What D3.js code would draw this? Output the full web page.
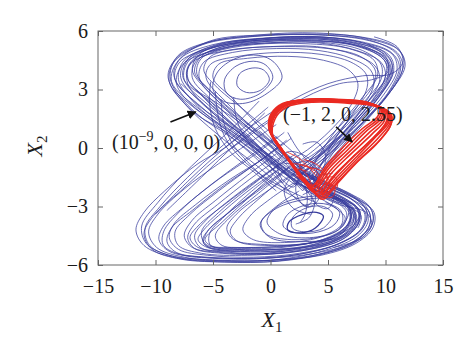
<!DOCTYPE html>
<html>
<head>
<meta charset="utf-8">
<script src="https://cdn.jsdelivr.net/npm/d3@7"></script>
<style>
  body { margin: 0; background: #fff; }
  svg text { font-family: "Liberation Serif", "DejaVu Serif", serif; fill: #1a1a1a; }
</style>
</head>
<body>
<div id="chart"></div>
<script>
// axis ticks
const xTicks = [-15, -10, -5, 0, 5, 10, 15]
const yTicks = [-6, -3, 0, 3, 6]

// blue trajectory as [x1, x2] points
// upper lobe: teardrop loops, apex near the centre
const upperLoops = [
  [[2,-1.6],[-0.5,-0.6],[-3.5,0.7],[-6.8,1.9],[-8.9,3.6],[-8.2,4.6],[-5.5,5.4],[-1,5.8],[4,5.9],[8.5,5.6],[11.2,5.0],[11.7,4.2],[10.3,2.8],[7.5,1.0],[4.5,-0.6],[2,-1.6]],
  [[2.5,-1.4],[0,-0.4],[-3,0.9],[-6.3,2.2],[-8.4,3.7],[-7.8,4.6],[-5,5.3],[-1,5.6],[4,5.7],[8,5.4],[10.6,4.8],[11.0,4.0],[9.8,2.7],[7.2,1.0],[4.6,-0.4],[2.5,-1.4]],
  [[3,-1.8],[0.5,-0.7],[-2.8,0.8],[-5.8,2.2],[-7.8,3.6],[-7.3,4.5],[-4.6,5.2],[-0.5,5.5],[4,5.6],[7.8,5.2],[10.1,4.6],[10.5,3.8],[9.4,2.6],[7,1.0],[4.8,-0.6],[3,-1.8]],
  [[1.5,-1.2],[-0.5,-0.2],[-3.2,1.2],[-5.6,2.5],[-7.3,3.7],[-6.8,4.5],[-4.2,5.1],[0,5.4],[4,5.4],[7.5,5.0],[9.6,4.4],[10.0,3.7],[8.9,2.5],[6.5,0.9],[3.8,-0.5],[1.5,-1.2]],
  [[2.8,-2.2],[0.8,-1.0],[-2.2,0.8],[-5,2.4],[-6.8,3.6],[-6.4,4.5],[-3.8,5.0],[0,5.2],[4,5.2],[7.2,4.8],[9.1,4.2],[9.5,3.5],[8.4,2.3],[6.2,0.7],[4.3,-0.9],[2.8,-2.2]],
  [[1.2,-0.8],[-1.5,0.6],[-4.4,2.3],[-6.2,3.6],[-5.8,4.4],[-3.3,4.9],[0.5,5.1],[4.2,5.0],[7,4.6],[8.7,4.0],[9.0,3.3],[7.9,2.0],[5.8,0.4],[3.5,-0.6],[1.2,-0.8]],
  [[2.2,-1.2],[-0.5,0.4],[-3.6,2.2],[-5.6,3.6],[-5.2,4.3],[-2.8,4.7],[0.8,4.9],[4.4,4.8],[7,4.4],[8.3,3.8],[8.4,3.1],[7.2,1.8],[5.2,0.2],[3.4,-0.8],[2.2,-1.2]],
  [[1.8,-0.6],[-0.8,1.0],[-3.4,2.6],[-5.0,3.6],[-4.5,4.3],[-2,4.6],[1.5,4.7],[4.6,4.5],[6.8,4.0],[7.6,3.3],[7,2.2],[5.2,0.9],[3.2,-0.1],[1.8,-0.6]],
  [[3.5,-2.0],[1,-0.9],[-2.5,0.5],[-6,1.9],[-8.6,3.4],[-8.0,4.5],[-5.2,5.5],[-0.5,5.8],[4.5,5.8],[8.8,5.5],[11,4.8],[11.3,4.0],[10,2.6],[7.3,0.7],[5,-0.9],[3.5,-2.0]],
  [[1,-1.8],[-1.5,-0.4],[-4.5,1.1],[-7.5,2.6],[-8.2,3.4],[-7.6,4.3],[-5,5.0],[-1.5,5.4],[3,5.5],[7.4,5.3],[9.8,4.7],[10.3,3.9],[9.2,2.9],[6.8,1.4],[3.8,-0.4],[1,-1.8]],
  [[2.6,-1.0],[0.2,0.2],[-2.6,1.5],[-5.2,2.9],[-6.6,3.9],[-6.0,4.7],[-3.5,5.3],[0.5,5.6],[5,5.6],[8.6,5.1],[10.3,4.3],[10.2,3.4],[8.6,2.2],[6.2,0.7],[4,-0.3],[2.6,-1.0]],
  [[3.2,-1.5],[1.2,-0.5],[-1.8,1.0],[-4.4,2.2],[-7.0,3.3],[-7.1,4.2],[-5.0,4.9],[-1.5,5.3],[3,5.35],[6.8,5.1],[9.0,4.5],[9.3,3.7],[8.0,2.6],[5.8,1.0],[4.2,-0.4],[3.2,-1.5]],
  [[2.2,-1.9],[-0.2,-0.9],[-3.3,0.5],[-6.5,1.8],[-8.7,3.5],[-8.1,4.7],[-5.3,5.45],[-0.8,5.75],[4.2,5.8],[8.6,5.5],[11.0,4.9],[11.5,4.1],[10.2,2.7],[7.4,0.9],[4.6,-0.7],[2.2,-1.9]],
  [[2.9,-1.2],[0.6,-0.1],[-2.4,1.2],[-5.5,2.5],[-7.6,3.6],[-7.1,4.6],[-4.4,5.35],[-0.2,5.65],[4.4,5.7],[8.2,5.35],[10.4,4.7],[10.7,3.9],[9.5,2.7],[7.1,1.1],[4.7,-0.2],[2.9,-1.2]],
  [[1.8,-1.4],[-0.8,-0.4],[-3.8,0.9],[-6.6,2.3],[-8.0,3.5],[-7.5,4.5],[-4.8,5.25],[-0.6,5.6],[4.1,5.65],[8.1,5.3],[10.3,4.6],[10.6,3.8],[9.3,2.5],[6.8,0.8],[4.1,-0.5],[1.8,-1.4]],
  [[3.3,-2.3],[1.2,-1.3],[-2,0.3],[-5.2,1.9],[-7.2,3.3],[-7.0,4.3],[-4.7,5.1],[-0.8,5.45],[3.6,5.5],[7.6,5.2],[9.9,4.5],[10.2,3.6],[9.0,2.4],[6.6,0.7],[4.6,-1.0],[3.3,-2.3]],
  [[2,-0.9],[-0.3,0.2],[-3.0,1.6],[-5.6,3.0],[-6.8,4.0],[-6.2,4.8],[-3.6,5.35],[0.3,5.55],[4.6,5.5],[8.3,5.1],[10.0,4.4],[9.9,3.5],[8.4,2.3],[6.0,0.8],[3.8,-0.3],[2,-0.9]],
  [[2.4,-1.6],[0,-0.6],[-3,0.7],[-6,2.1],[-8.3,3.5],[-7.9,4.4],[-5.4,5.1],[-1.6,5.5],[3,5.6],[7.2,5.4],[9.9,4.9],[10.6,4.2],[9.8,3.2],[7.7,1.6],[5,0],[2.4,-1.6]],
  [[3.8,-1.6],[1.6,-0.4],[-1.6,1.1],[-4.6,2.6],[-6.4,3.8],[-6.0,4.6],[-3.4,5.2],[0.5,5.4],[4.8,5.4],[8.0,5.0],[9.6,4.3],[9.6,3.5],[8.2,2.4],[6.2,1.0],[4.8,-0.4],[3.8,-1.6]],
  [[1.4,-2.2],[-1.0,-1.0],[-4.2,0.5],[-7.2,2.1],[-8.8,3.4],[-8.4,4.4],[-5.9,5.3],[-1.8,5.7],[3.2,5.85],[7.8,5.7],[10.8,5.2],[11.6,4.5],[11.0,3.4],[8.8,1.8],[5.6,0],[3,-1.4],[1.4,-2.2]],
  [[2.7,-0.6],[0.4,0.6],[-2.4,2.0],[-4.8,3.2],[-5.8,4.0],[-5.2,4.7],[-2.4,5.1],[1.2,5.2],[5,5.1],[7.8,4.7],[9.1,4.0],[8.9,3.2],[7.5,2.1],[5.5,0.8],[3.8,-0.1],[2.7,-0.6]],
  [[3.1,-1.9],[0.9,-0.9],[-2.2,0.7],[-5.4,2.2],[-7.5,3.5],[-7.2,4.4],[-4.9,5.2],[-1.0,5.6],[3.8,5.7],[7.9,5.45],[10.5,4.9],[11.2,4.2],[10.4,3.0],[8.0,1.3],[5.5,-0.4],[3.1,-1.9]]
]

// lower lobe: loops with the apex at the top centre
const lowerLoops = [
  [[-0.5,1.8],[-2.3,0.8],[-4,0],[-6.3,-0.8],[-9.2,-2.2],[-11,-3.3],[-11.7,-4.2],[-11,-5.0],[-8.5,-5.6],[-4,-5.85],[0.5,-5.8],[4.5,-5.4],[7.5,-4.7],[8.9,-3.8],[8.6,-3.0],[6.8,-2.3],[4.2,-1.6],[2,-0.6]],
  [[0.5,1.2],[-2,0.2],[-4.5,-0.8],[-7.5,-2.1],[-9.8,-3.4],[-10.6,-4.3],[-9.9,-5.1],[-7.5,-5.6],[-3,-5.8],[1,-5.7],[5,-5.2],[7.6,-4.5],[8.5,-3.7],[8,-2.9],[6,-2.2],[3.5,-1.5],[1.5,-0.4]],
  [[1.2,0.8],[-1.5,-0.4],[-4.5,-1.6],[-7.5,-3.0],[-9.3,-4.0],[-9.7,-4.7],[-8.8,-5.3],[-6,-5.6],[-2,-5.7],[2,-5.5],[5.5,-5.0],[7.8,-4.2],[8.2,-3.4],[7,-2.6],[4.5,-1.9],[2,-1.0]],
  [[1,0.2],[-1.5,-0.9],[-4.5,-2.2],[-7,-3.4],[-8.3,-4.3],[-8,-5.0],[-6,-5.4],[-2,-5.5],[2,-5.3],[5.5,-4.8],[7.5,-4.0],[7.8,-3.3],[6.5,-2.6],[4,-2.0],[2,-1.2]],
  [[0.5,-0.3],[-2,-1.4],[-4.8,-2.7],[-6.8,-3.7],[-7.5,-4.5],[-6.8,-5.1],[-4.5,-5.35],[-0.5,-5.4],[3,-5.1],[6,-4.6],[7.6,-3.8],[7.5,-3.1],[6,-2.5],[3.5,-1.8],[1.5,-0.9]],
  [[1.5,-0.6],[-1,-1.6],[-4,-2.9],[-6.3,-4.0],[-7.0,-4.6],[-6.3,-5.1],[-3.5,-5.3],[0,-5.3],[3.5,-5.0],[6.2,-4.4],[7.3,-3.6],[7,-3.0],[5.4,-2.4],[3,-1.6]],
  [[1,-1.0],[-1.5,-2.0],[-4,-3.2],[-5.8,-4.2],[-6.3,-4.7],[-5.5,-5.1],[-3,-5.2],[0.5,-5.2],[4,-4.9],[6.5,-4.2],[7.2,-3.5],[6.6,-2.9],[4.8,-2.3],[2.5,-1.5]],
  [[0.2,-1.4],[-2,-2.6],[-4.2,-3.8],[-5.7,-4.7],[-5,-5.05],[-2.5,-5.15],[1,-5.1],[4.5,-4.7],[6.6,-4.0],[6.9,-3.4],[6,-2.8],[4,-2.2],[2,-1.8]],
  [[-1,2.4],[-3,1.2],[-5,0.1],[-7.5,-1.3],[-9.8,-2.8],[-11.2,-4.0],[-10.8,-4.9],[-8.8,-5.5],[-4.5,-5.75],[0,-5.75],[4.2,-5.45],[7.2,-4.9],[8.8,-4.0],[8.8,-3.2],[7.2,-2.5],[4.5,-1.7],[2.5,-1.1]],
  [[1.8,0.5],[-0.5,-0.5],[-3.5,-1.6],[-6.5,-2.9],[-8.4,-3.9],[-8.8,-4.6],[-8,-5.2],[-5.5,-5.5],[-1.5,-5.6],[2.5,-5.4],[6,-4.9],[8,-4.1],[8.4,-3.3],[7.4,-2.6],[5,-1.9],[2.8,-1.3]],
  [[1.5,-1.5],[-0.5,-2.3],[-2.8,-3.3],[-3.8,-4.1],[-3.2,-4.7],[-0.5,-4.95],[3,-4.9],[5.8,-4.4],[7,-3.6],[6.7,-2.9],[5.2,-2.4],[3,-2.0]],
  [[2,-1.8],[0,-2.6],[-1.8,-3.5],[-2.4,-4.2],[-1.5,-4.7],[1.2,-4.85],[4.2,-4.6],[6.3,-4.0],[6.6,-3.3],[5.5,-2.7],[3.5,-2.3]],
  [[2.5,-2.2],[0.5,-3.0],[-0.8,-3.8],[-0.4,-4.4],[1.8,-4.7],[4.6,-4.5],[6.2,-3.9],[6.1,-3.2],[4.8,-2.8]],
  [[0.8,-0.8],[-1.8,-2.0],[-4.5,-3.3],[-6.0,-4.3],[-5.6,-4.95],[-3,-5.1],[0.5,-5.05],[4,-4.8],[6.4,-4.2],[7.0,-3.4],[6.2,-2.7],[4.2,-2.0]],
  [[1.3,-1.2],[-1.2,-2.4],[-3.6,-3.6],[-4.8,-4.5],[-4.2,-5.0],[-1.5,-5.1],[2,-5.0],[5.2,-4.6],[6.9,-3.8],[6.8,-3.1],[5.6,-2.6],[3.6,-2.1]],
  [[0,1.4],[-2.4,0.4],[-4.8,-0.6],[-7.8,-2.2],[-10.2,-3.5],[-11.0,-4.4],[-10.3,-5.2],[-7.8,-5.7],[-3.5,-5.85],[0.8,-5.8],[4.8,-5.4],[7.6,-4.7],[8.7,-3.8],[8.3,-3.0],[6.4,-2.3],[3.9,-1.6],[1.8,-0.8]],
  [[1.4,0.4],[-1,-0.7],[-4,-1.9],[-6.8,-3.2],[-8.6,-4.1],[-9.0,-4.8],[-8.2,-5.35],[-5.5,-5.6],[-1.5,-5.65],[2.5,-5.45],[5.8,-4.95],[7.9,-4.2],[8.3,-3.4],[7.2,-2.7],[4.8,-2.0],[2.5,-1.2]],
  [[0.8,-0.5],[-1.8,-1.6],[-4.6,-2.9],[-6.6,-3.9],[-7.2,-4.6],[-6.6,-5.15],[-4.2,-5.4],[-0.2,-5.45],[3.4,-5.2],[6.2,-4.7],[7.6,-3.9],[7.6,-3.2],[6.3,-2.6],[3.9,-1.9],[1.8,-1.1]],
  [[1.8,-0.9],[-0.6,-2.0],[-3.4,-3.2],[-5.4,-4.2],[-5.9,-4.75],[-5.2,-5.15],[-2.6,-5.3],[0.9,-5.3],[4.4,-5.0],[6.8,-4.4],[7.5,-3.7],[7.1,-3.0],[5.6,-2.5],[3.4,-1.8]],
  [[0.5,-1.2],[-1.8,-2.3],[-4.0,-3.5],[-5.3,-4.4],[-5.2,-5.0],[-3.0,-5.2],[0.4,-5.2],[3.8,-5.0],[6.2,-4.5],[7.2,-3.8],[7.0,-3.1],[5.8,-2.6],[3.8,-2.0],[2.0,-1.6]],
  [[-0.2,2.1],[-2.6,0.9],[-4.6,-0.1],[-7.2,-1.5],[-9.6,-3.0],[-10.9,-4.1],[-10.5,-5.0],[-8.2,-5.6],[-4,-5.8],[0.4,-5.75],[4.4,-5.5],[7.4,-4.9],[8.9,-4.1],[9.0,-3.3],[7.6,-2.6],[5,-1.8],[2.8,-1.2]],
  [[2.2,-0.3],[-0.4,-1.3],[-3.2,-2.5],[-5.6,-3.7],[-6.6,-4.5],[-6.1,-5.1],[-3.6,-5.35],[0.2,-5.4],[3.8,-5.15],[6.5,-4.6],[7.7,-3.8],[7.6,-3.1],[6.2,-2.5],[3.8,-1.8]],
  [[1.0,-1.6],[-1.0,-2.6],[-2.8,-3.6],[-3.5,-4.3],[-2.8,-4.8],[-0.2,-5.0],[3.2,-4.9],[5.9,-4.5],[7.0,-3.7],[6.8,-3.0],[5.4,-2.5],[3.2,-2.0]],
  [[0.6,0.6],[-2.0,-0.5],[-5.0,-1.8],[-7.8,-3.2],[-9.3,-4.3],[-9.3,-5.0],[-7.6,-5.5],[-4.2,-5.65],[-0.2,-5.65],[3.8,-5.4],[6.9,-4.9],[8.5,-4.1],[8.6,-3.3],[7.3,-2.7],[5,-2.0],[2.6,-1.3]],
  [[1.6,-1.0],[-0.8,-2.0],[-3.6,-3.3],[-5.5,-4.3],[-5.8,-4.9],[-4.6,-5.2],[-1.4,-5.25],[2.2,-5.15],[5.4,-4.8],[7.1,-4.1],[7.4,-3.4],[6.6,-2.8],[4.6,-2.2],[2.6,-1.6]]
]

// small closed loops inside each lobe
const innerUpper = [
  [[1.0,3.6],[0.3,4.4],[-1.0,4.75],[-3.0,4.6],[-4.6,3.9],[-5.0,3.0],[-4.1,2.4],[-2.2,2.3],[-0.3,2.8]],
  [[0.2,3.6],[-0.4,4.25],[-1.5,4.45],[-3.0,4.2],[-4.0,3.5],[-3.8,2.8],[-2.6,2.5],[-0.9,2.8]],
  [[-0.1,3.5],[-0.6,4.0],[-1.6,4.1],[-2.7,3.8],[-2.9,3.2],[-2.1,2.85],[-0.9,2.95]]
]
const innerLower = [
  [[6.0,-3.3],[5.0,-2.9],[3.2,-2.9],[1.5,-3.4],[1.1,-4.0],[2.2,-4.35],[4.2,-4.3],[5.6,-3.9]],
  [[4.6,-3.5],[4.0,-3.3],[2.8,-3.4],[1.6,-3.8],[1.5,-4.2],[2.6,-4.35],[3.9,-4.1]],
  [[6.8,-3.2],[5.6,-2.6],[3.2,-2.5],[0.6,-3.0],[-0.3,-3.8],[0.8,-4.4],[3.4,-4.6],[5.9,-4.2]],
  [[7.8,-3.3],[6.5,-2.7],[3.5,-2.6],[0.5,-3.1],[-0.9,-3.9],[0,-4.6],[3,-4.8],[6.2,-4.5]],
  [[5.4,-3.4],[4.6,-3.0],[3.0,-3.1],[1.9,-3.6],[1.9,-4.1],[3.0,-4.3],[4.6,-4.1]]
]

// strands that cross the waist of the figure eight
const crossStrands = [
  [[-8.5,3.0],[-6.5,2.0],[-4,1.0],[-1.5,0],[1,-1.1],[3.5,-2.2],[6,-2.9],[8.3,-3.3],[8.8,-3.9],[8,-4.6],[5.5,-5.1]],
  [[-7.8,3.3],[-5.5,2.1],[-3,0.9],[-0.5,-0.4],[2,-1.6],[4.5,-2.5],[6.8,-3.0],[7.9,-3.5],[7.6,-4.1]],
  [[-6.5,3.0],[-4.5,1.8],[-2,0.4],[0.5,-1.0],[3,-2.0],[5.5,-2.6],[7.2,-3.2],[7.3,-3.9],[6,-4.4]],
  [[-5.5,2.6],[-3.5,1.3],[-1.2,0.1],[1.2,-1.2],[3.5,-2.3],[5.5,-3.0],[6.5,-3.6],[6,-4.1]],
  [[-10,-3.4],[-7,-1.6],[-4,0],[-1,1.4],[2,2.5],[5,3.3],[8,3.7],[10.5,3.8],[11.5,4.4],[11,5.2],[9,5.7]],
  [[-9,-3.2],[-6,-1.5],[-3,0.2],[0,1.5],[3,2.6],[6,3.3],[8.8,3.5],[10.2,3.9],[10,4.7],[8.5,5.3]],
  [[-4.8,2.9],[-4.6,1.8],[-4.0,0.6],[-2.6,-0.5],[-0.5,-1.5],[2,-2.3],[4,-2.8]],
  [[-5.2,3.4],[-5.3,2.3],[-4.8,1.0],[-3.5,-0.2],[-1.5,-1.2],[0.5,-2.2]],
  [[-3.2,2.6],[-3.0,1.6],[-2.3,0.6],[-1,-0.4],[0.8,-1.4]],
  [[-4.3,2.5],[-4.1,1.4],[-3.4,0.3],[-2,-0.7],[0,-1.8],[2.4,-2.6]],
  [[2.5,-0.5],[2.8,-1.5],[3.2,-2.5],[3.0,-3.4],[2.6,-3.8]],
  [[3.6,-1.2],[3.9,-2.2],[3.8,-3.0],[3.3,-3.6],[2.2,-3.9]]
]

// tangle around the centre
const centerMesh = [
  [[0,0.5],[1,-0.3],[2,-0.6],[2.6,-1.3],[2,-2],[1,-1.6],[0.6,-0.8],[1.5,-0.2],[3,-0.4],[4,-1.1],[3.8,-2],[2.8,-2.4]],
  [[-0.5,-0.5],[0.8,-1.6],[2.2,-2.6],[3.4,-3.0],[4.2,-2.6],[4.0,-1.8],[3,-1.3],[1.8,-1.5],[1.2,-2.3],[2,-3.1],[3.5,-3.4]],
  [[1.5,0.8],[2.3,0.0],[3.4,-0.8],[4.6,-1.6],[5.5,-2.5],[5,-3.1],[4,-2.9],[3.5,-2.2],[4,-1.5],[5.4,-1.3]],
  [[-1,0.9],[0.3,0.2],[1.8,-0.8],[3.2,-1.6],[4.4,-1.2],[4.8,-0.4],[4,0.3],[2.8,0.2]],
  [[0.4,-0.2],[1.6,-1.0],[2.8,-1.9],[3.6,-2.7],[3.0,-3.0],[2.2,-2.2],[2.6,-1.4],[3.8,-1.0],[5.0,-1.6]]
]

// red trajectory: the thick band of the limit cycle
const redLoops = [
  [[4.0,-2.4],[2.8,-1.6],[1.2,-0.3],[0.0,0.8],[0.2,1.6],[1.2,2.2],[3.5,2.45],[6.5,2.4],[8.8,2.25],[10.2,1.85],[10.3,1.35],[9.2,0.6],[7.4,-0.5],[5.6,-1.6],[4.4,-2.4],[4.0,-2.4]],
  [[4.2,-2.5],[2.9,-1.7],[1.3,-0.4],[0.1,0.7],[0.3,1.55],[1.3,2.15],[3.6,2.4],[6.6,2.35],[8.9,2.2],[10.4,1.8],[10.5,1.25],[9.5,0.4],[7.7,-0.6],[5.9,-1.7],[4.6,-2.5],[4.2,-2.5]],
  [[3.8,-2.2],[2.7,-1.5],[1.1,-0.2],[-0.1,0.9],[0.1,1.7],[1.1,2.25],[3.4,2.5],[6.4,2.45],[8.6,2.3],[9.9,1.9],[9.9,1.4],[8.8,0.7],[7.0,-0.3],[5.3,-1.3],[4.2,-2.2],[3.8,-2.2]],
  [[4.3,-2.6],[3.0,-1.8],[1.4,-0.5],[0.2,0.6],[0.4,1.5],[1.4,2.1],[3.7,2.35],[6.7,2.3],[9.0,2.15],[10.5,1.7],[10.4,1.1],[9.2,0.2],[7.4,-0.8],[5.7,-1.9],[4.7,-2.6],[4.3,-2.6]],
  [[3.9,-2.3],[2.6,-1.4],[1.0,-0.1],[-0.05,0.95],[0.15,1.65],[1.15,2.2],[3.45,2.45],[6.45,2.4],[8.7,2.28],[10.0,1.92],[10.1,1.4],[9.0,0.55],[7.2,-0.45],[5.45,-1.45],[4.3,-2.3],[3.9,-2.3]],
  [[3.7,-2.1],[2.5,-1.3],[0.9,0.0],[-0.1,1.0],[0.1,1.7],[1.1,2.25],[3.4,2.48],[6.3,2.45],[8.5,2.3],[9.7,1.95],[9.6,1.5],[8.4,0.9],[6.7,-0.1],[5.0,-1.1],[4.0,-2.0],[3.7,-2.1]],
  [[3.6,-2.0],[2.4,-1.2],[0.8,0.1],[-0.15,1.05],[0.05,1.75],[1.05,2.28],[3.3,2.5],[6.2,2.48],[8.4,2.35],[9.5,2.0],[9.3,1.6],[8.0,1.0],[6.4,0.1],[4.8,-0.95],[3.9,-1.85],[3.6,-2.0]],
  [[4.1,-2.45],[2.85,-1.65],[1.25,-0.35],[0.05,0.75],[0.25,1.6],[1.25,2.18],[3.55,2.42],[6.55,2.38],[8.85,2.22],[10.3,1.82],[10.4,1.3],[9.35,0.5],[7.55,-0.55],[5.75,-1.65],[4.5,-2.45]],
  [[3.75,-2.15],[2.55,-1.35],[0.95,-0.05],[-0.1,0.98],[0.1,1.72],[1.1,2.26],[3.35,2.49],[6.25,2.46],[8.45,2.32],[9.6,1.98],[9.45,1.55],[8.2,0.95],[6.55,0.0],[4.9,-1.02],[3.95,-1.92]],
  [[3.95,-2.35],[2.65,-1.45],[1.05,-0.15],[-0.02,0.92],[0.18,1.62],[1.2,2.2],[3.5,2.44],[6.5,2.4],[8.75,2.26],[10.1,1.88],[10.2,1.38],[9.1,0.62],[7.3,-0.38],[5.5,-1.5],[4.35,-2.35]],
  [[3.85,-2.25],[2.6,-1.4],[1.0,-0.08],[-0.08,0.97],[0.12,1.68],[1.12,2.23],[3.42,2.47],[6.38,2.43],[8.6,2.3],[9.8,1.93],[9.75,1.45],[8.6,0.8],[6.85,-0.2],[5.15,-1.2],[4.1,-2.1]]
]
// red transient near the lower corner
const redTransient = [
  [[4.8,-2.3],[5.8,-2.0],[5.6,-1.5],[4.6,-1.6],[3.8,-2.0],[3.2,-1.4],[2.5,-0.9],[3.4,-1.0],[4.5,-1.2],[5.2,-1.9],[4.5,-2.4]],
  [[4.4,-2.0],[5.0,-1.8],[5.6,-2.1],[5.4,-2.5],[4.7,-2.5],[4.4,-2.0]],
  [[1.8,-0.8],[3.0,-0.9],[4.2,-1.4],[3.6,-1.9],[2.6,-1.6],[2.2,-1.1],[3.2,-1.2]],
  [[2.2,-1.4],[3.3,-1.9],[4.6,-2.2],[4.9,-1.4],[3.9,-0.8],[2.9,-0.6]],
  [[1.4,-0.2],[2.4,-0.5],[3.5,-1.1],[4.3,-1.8],[3.9,-2.3],[3.2,-2.0],[3.0,-1.5]]
]

const W = 474, H = 354
const plot = {"left": 98, "right": 443, "top": 31, "bottom": 265}
const blue = "#373b9c"
const red = "#ea2a22"
const serif = "'Liberation Serif', 'DejaVu Serif', serif"

const svg = d3.select("#chart")
              .append("svg")
              .attr("width", W)
              .attr("height", H)
              .style("background", "#fff")

const x = d3.scaleLinear().domain([-15, 15]).range([plot.left, plot.right])
const y = d3.scaleLinear().domain([-6, 6]).range([plot.bottom, plot.top])

svg.append("clipPath")
   .attr("id", "clip")
   .append("rect")
   .attr("x", plot.left).attr("y", plot.top)
   .attr("width", plot.right - plot.left).attr("height", plot.bottom - plot.top)

const path = d3.line().x(d => x(d[0])).y(d => y(d[1])).curve(d3.curveCatmullRom.alpha(0.5))
const ring = d3.line().x(d => x(d[0])).y(d => y(d[1])).curve(d3.curveCatmullRomClosed.alpha(0.5))

const marks = svg.append("g").attr("clip-path", "url(#clip)")

marks.selectAll("path.open")
     .data([...upperLoops, ...lowerLoops, ...crossStrands, ...centerMesh])
     .join("path")
     .attr("class", "open")
     .attr("d", path)
     .attr("fill", "none")
     .attr("stroke", blue)
     .attr("stroke-width", 0.75)

marks.selectAll("path.ring")
     .data([...innerUpper, ...innerLower])
     .join("path")
     .attr("class", "ring")
     .attr("d", ring)
     .attr("fill", "none")
     .attr("stroke", blue)
     .attr("stroke-width", (d, i) => i === 4 ? 1.3 : 0.8)

marks.selectAll("path.red")
     .data([...redLoops, ...redTransient])
     .join("path")
     .attr("class", "red")
     .attr("d", path)
     .attr("fill", "none")
     .attr("stroke", red)
     .attr("stroke-width", (d, i) => i < redLoops.length ? 1.6 : 0.9)

// axes, ticks pointing inwards on all four sides
const tickFont = g => {
  g.select(".domain").remove()
  g.selectAll("line").attr("stroke", "#666")
  g.selectAll("text")
   .style("font-family", serif)
   .style("font-size", "20px")
   .style("fill", "#1a1a1a")
}
svg.append("g").attr("transform", "translate(" + plot.left + ",0)")
   .call(d3.axisLeft(y).tickValues(yTicks).tickSizeInner(-5).tickSizeOuter(0).tickPadding(10)).call(tickFont)
svg.append("g").attr("transform", "translate(0," + plot.bottom + ")")
   .call(d3.axisBottom(x).tickValues(xTicks).tickSizeInner(-5).tickSizeOuter(0).tickPadding(14)).call(tickFont)
svg.append("g").attr("transform", "translate(" + plot.right + ",0)")
   .call(d3.axisRight(y).tickValues(yTicks).tickSizeInner(-5).tickSizeOuter(0).tickFormat("")).call(tickFont)
svg.append("g").attr("transform", "translate(0," + plot.top + ")")
   .call(d3.axisTop(x).tickValues(xTicks).tickSizeInner(-5).tickSizeOuter(0).tickFormat("")).call(tickFont)

svg.append("rect")
   .attr("x", plot.left).attr("y", plot.top)
   .attr("width", plot.right - plot.left).attr("height", plot.bottom - plot.top)
   .attr("fill", "none").attr("stroke", "#666").attr("stroke-width", 1)

// axis titles
const xt = svg.append("text").attr("x", 272).attr("y", 327).attr("text-anchor", "middle")
              .style("font-size", "22px").style("font-style", "italic")
xt.append("tspan").text("X")
xt.append("tspan").attr("dy", 5).style("font-size", "15px").style("font-style", "normal").text("1")

const yt = svg.append("text").attr("transform", "translate(42,146) rotate(-90)").attr("text-anchor", "middle")
              .style("font-size", "22px").style("font-style", "italic")
yt.append("tspan").text("X")
yt.append("tspan").attr("dy", 5).style("font-size", "15px").style("font-style", "normal").text("2")

// annotations with arrows
svg.append("defs").append("marker")
   .attr("id", "head").attr("viewBox", "0 0 10 10").attr("refX", 9).attr("refY", 5)
   .attr("markerWidth", 9).attr("markerHeight", 9).attr("markerUnits", "userSpaceOnUse")
   .attr("orient", "auto")
   .append("path").attr("d", "M0,0L10,5L0,10z").attr("fill", "#111")

const arrows = [
  [[-8.7, 1.33], [-6.5, 1.85]],
  [[5.7, 1.08], [7.1, 0.31]]
]
svg.selectAll("line.arrow")
   .data(arrows)
   .join("line")
   .attr("class", "arrow")
   .attr("x1", d => x(d[0][0])).attr("y1", d => y(d[0][1]))
   .attr("x2", d => x(d[1][0])).attr("y2", d => y(d[1][1]))
   .attr("stroke", "#111").attr("stroke-width", 1.6)
   .attr("marker-end", "url(#head)")

const n1 = svg.append("text").attr("x", 112).attr("y", 149).style("font-size", "20px")
n1.append("tspan").text("(10")
n1.append("tspan").attr("dy", -8).style("font-size", "14px").text("\u22129")
n1.append("tspan").attr("dy", 8).text(", 0, 0, 0)")

svg.append("text").attr("x", 283).attr("y", 121).style("font-size", "20px")
   .text("(\u22121, 2, 0, 2.55)")
</script>
</body>
</html>
